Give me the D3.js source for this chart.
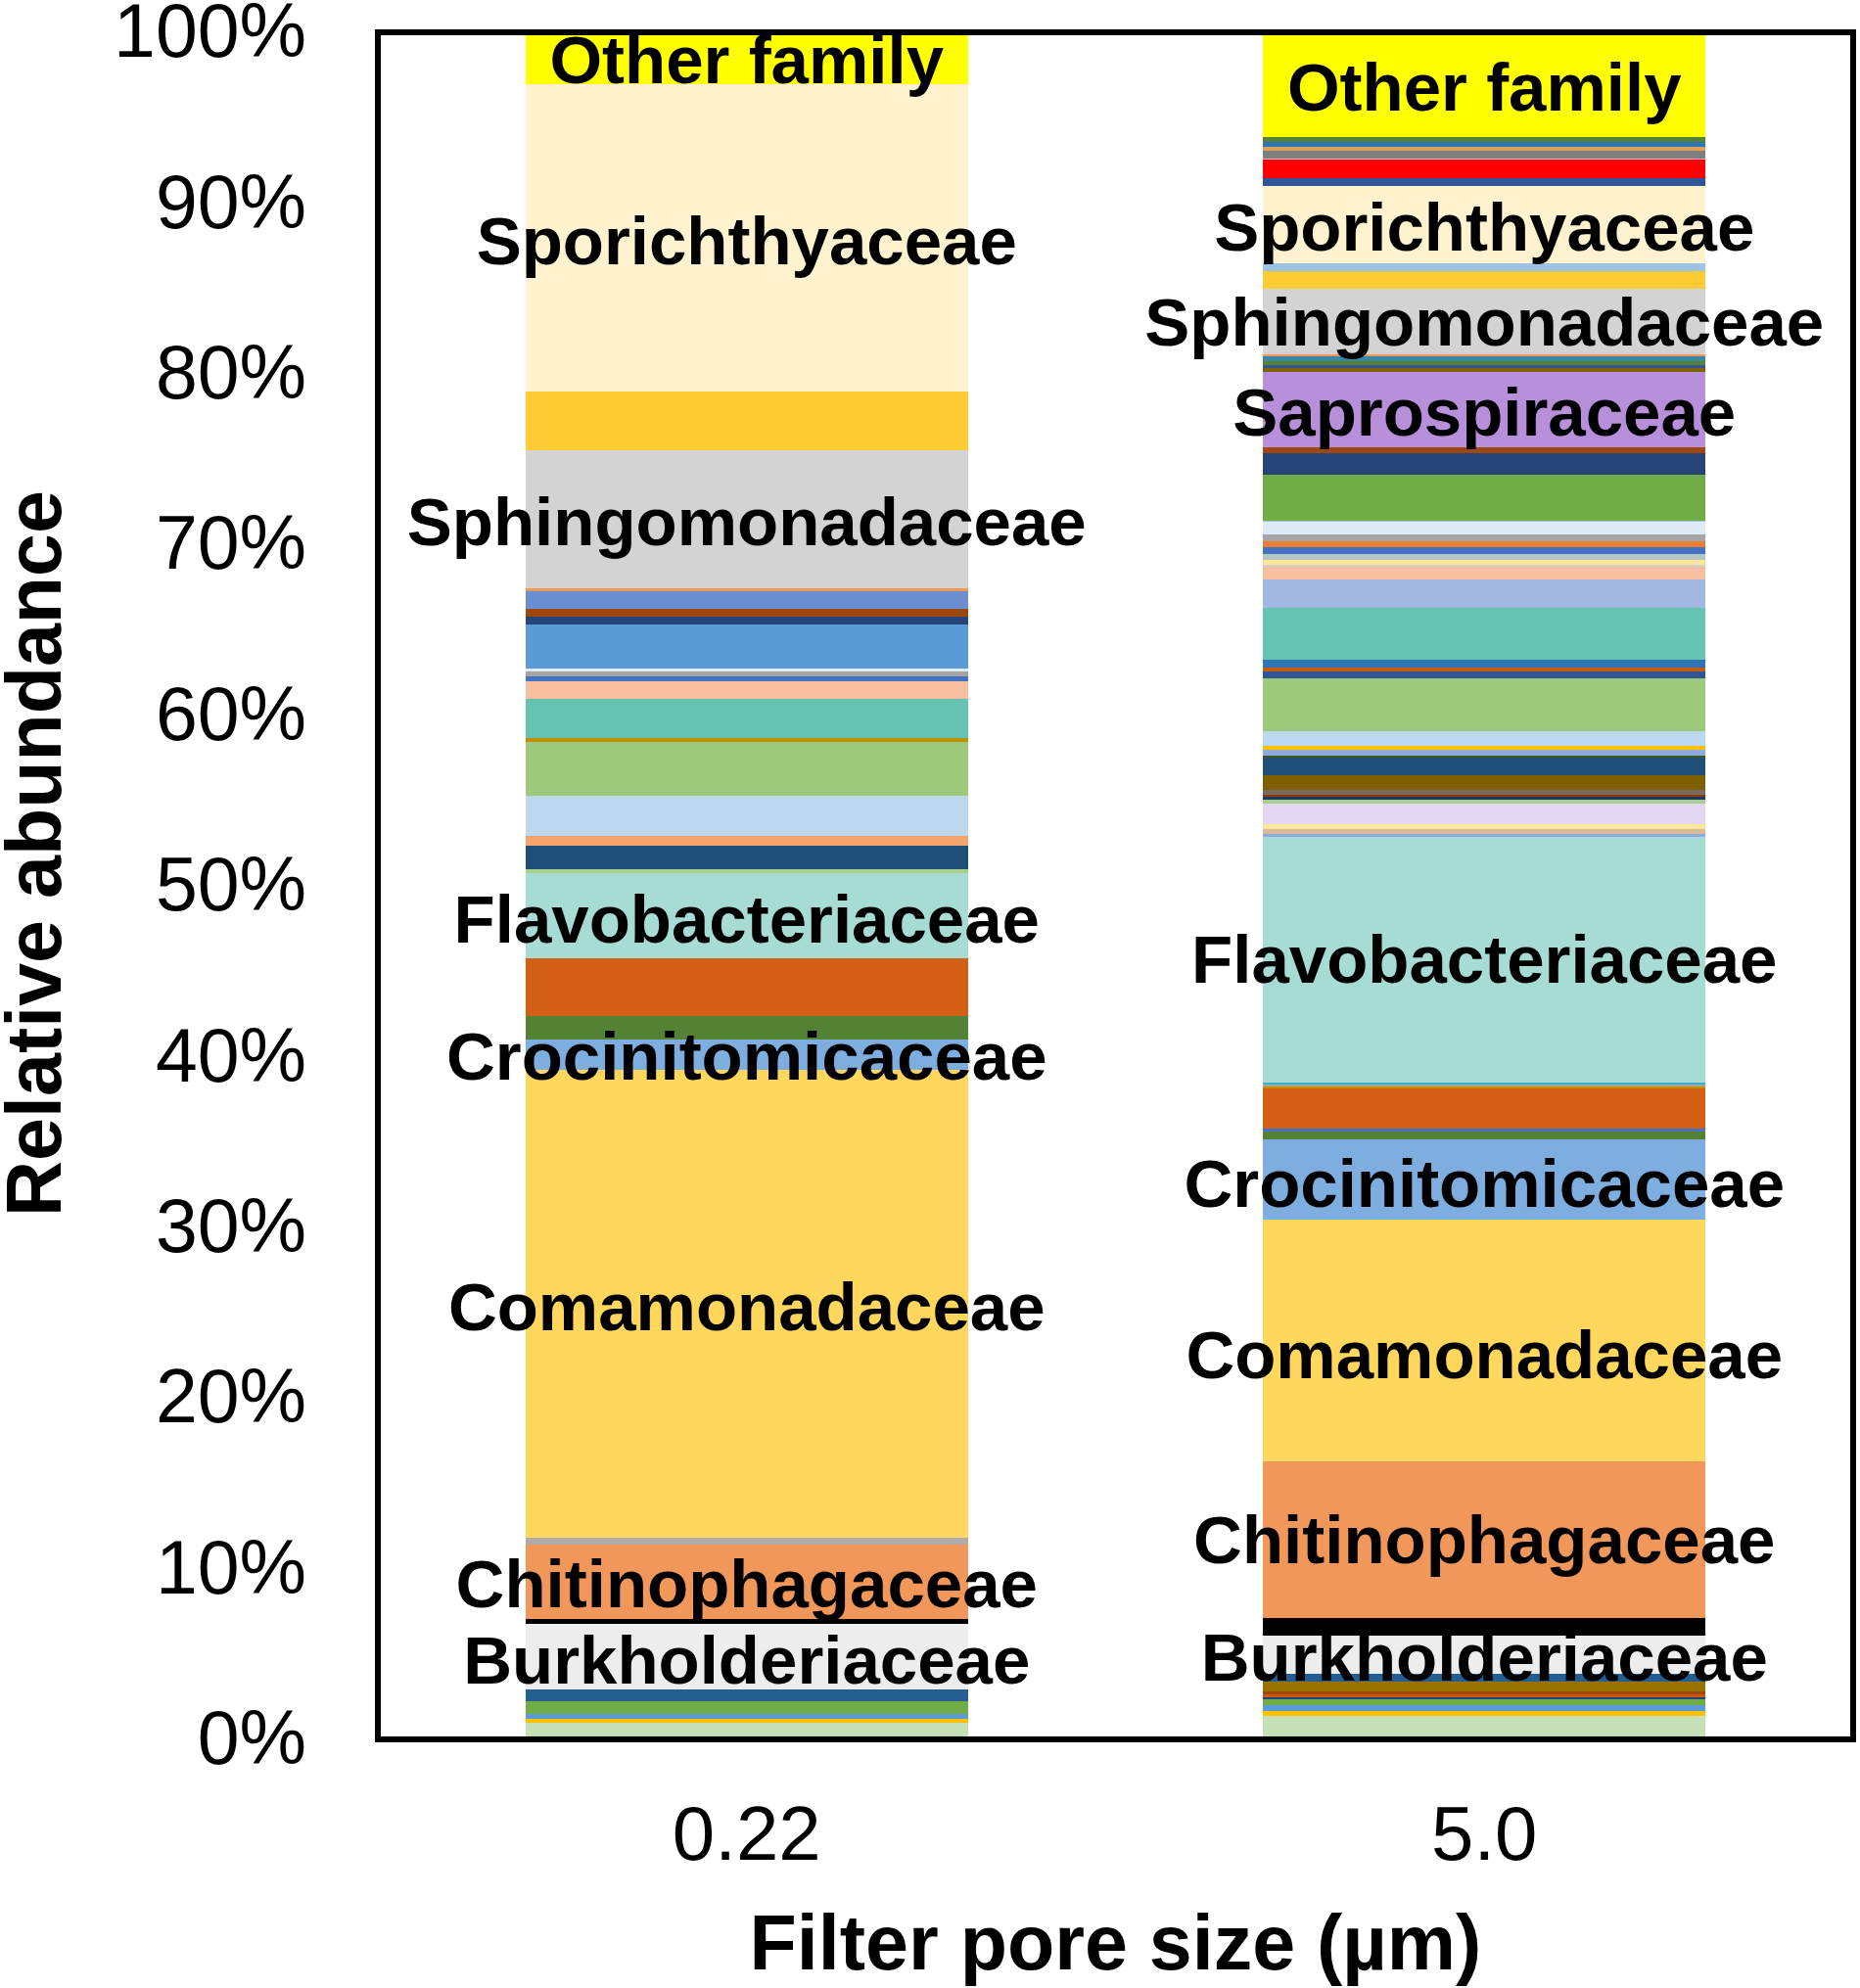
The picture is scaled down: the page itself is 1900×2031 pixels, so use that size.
<!DOCTYPE html>
<html lang="en">
<head>
<meta charset="UTF-8">
<title>Relative abundance by filter pore size</title>
<style>
  body { margin: 0; background: #ffffff; }
  #canvas { width: 1900px; height: 2031px; }
  text { font-family: "Liberation Sans", Arial, sans-serif; }
</style>
<script src="https://cdnjs.cloudflare.com/ajax/libs/d3/7.8.5/d3.min.js"></script>
</head>
<body>
<div id="canvas"></div>
<script>
// samples (x categories)
var samples = ["0.22", "5.0"];

// family abundances (%), stacked bottom -> top, same series order in both bars
var abund022 = [
  1.00, 0.19, 0.29, 0.73, 0, 0, 0, 0, 0.71, 3.82,
  0.33, 4.36, 0.38, 27.40, 1.80, 1.34, 0, 3.40, 0, 0,
  0, 5.00, 0, 0, 0, 0, 0.25, 0, 0, 0,
  0, 1.36, 0, 0, 0.57, 0, 2.33, 3.19, 0.19, 0,
  0, 0, 2.31, 0, 1.03, 0, 0, 0, 0.29, 0,
  0.29, 0.19, 0, 2.58, 0, 0.44, 0.44, 1.05, 0, 0,
  0, 0, 0, 0.19, 8.07, 3.44, 0, 18.00, 0, 0,
  0, 0, 0, 0, 0, 3.04
];
var abund50 = [
  1.36, 0.29, 0.38, 0.33, 0.12, 0.13, 0.19, 0.57, 0.48, 2.25,
  1.03, 9.14, 0, 14.18, 4.68, 0.50, 0.13, 2.39, 0.11, 0.11,
  0.11, 14.39, 0.19, 0.29, 0.25, 1.24, 0.19, 0.19, 0.13, 0.25,
  0.90, 1.01, 0.13, 0.33, 0, 0.23, 0.84, 3.10, 0, 0.42,
  0.25, 0.44, 3.06, 1.66, 0.71, 0.11, 0.33, 0.33, 0.38, 0.38,
  0.40, 0.73, 0.07, 0, 2.68, 1.24, 0.38, 0, 4.40, 0.20,
  0.20, 0.25, 0.25, 0.15, 3.82, 1.05, 0.42, 4.55, 0.48, 1.05,
  0.10, 0.44, 0.23, 0.29, 0.29, 6.12
];

// fill colour of each series
var segColors = [
  "#C5E0B4", "#FFC000", "#5B9BD5", "#70AD47", "#264478", "#C55A11", "#9E480E", "#997300", "#255E91", "#EDEDED",
  "#000000", "#F1975A", "#AFABAB", "#FFD75C", "#7EAEE0", "#548235", "#4472C4", "#D35F14", "#BF9000", "#A5A5A5",
  "#4BACC6", "#A7DCD4", "#8FAADC", "#D9B99B", "#FFE699", "#E3D7F1", "#A9D18E", "#203864", "#843C0C", "#7B6A58",
  "#7F6000", "#1F4E79", "#385723", "#8FAADC", "#F4A46C", "#FFC000", "#BDD7EE", "#9DC97B", "#BF9000", "#2F5597",
  "#C55A11", "#2E75B6", "#66C3B1", "#A2B8E1", "#F7BFA0", "#D0CECE", "#FFE699", "#B4C7C7", "#4472C4", "#ED7D31",
  "#A5A5A5", "#DEEBF7", "#9DC3E6", "#5B9BD5", "#70AD47", "#264478", "#9E480E", "#6A8ED0", "#B88FDB", "#806000",
  "#2F5597", "#548235", "#3A86A8", "#F0975A", "#D3D3D3", "#FFCC33", "#9DC3E6", "#FFF2CF", "#2F5597", "#FF0000",
  "#F4B6C2", "#7F7F7F", "#DDA15E", "#2E75B6", "#548235", "#FFFF00"
];

// family names written on the bars and where (in %) they sit
var labelText = ["Other family", "Sporichthyaceae", "Sphingomonadaceae", "Saprospiraceae", "Flavobacteriaceae",
                 "Crocinitomicaceae", "Comamonadaceae", "Chitinophagaceae", "Burkholderiaceae"];
var labelAt022 = [97.0, 86.4, 69.95, null, 46.7, 38.65, 23.95, 7.75, 3.25];
var labelAt50  = [95.4, 87.2, 81.65, 76.4, 44.3, 31.2, 21.15, 10.3, 3.45];

// y tick values
var yTicks = [0, 10, 20, 30, 40, 50, 60, 70, 80, 90, 100];

//initialize
var width = 1900, height = 2031;
var plot = {left: 386, right: 1893, top: 33, bottom: 1777};

var keys = d3.range(segColors.length);
var table = [abund022, abund50].map(function(vals, i) {
  var row = {sample: samples[i]};
  keys.forEach(function(k) { row[k] = vals[k]; });
  return row;
});
var series = d3.stack().keys(keys)(table);

//scale
var x = d3.scaleBand()
          .domain(samples)
          .range([plot.left, plot.right])
          .paddingInner(0.4)
          .paddingOuter(0.2);

var y = d3.scaleLinear()
          .domain([0, 100])
          .range([plot.bottom, plot.top]);

var svg = d3.select("#canvas")
            .append("svg")
            .attr("width", width)
            .attr("height", height);

//bars
svg.append("g")
    .selectAll("g")
    .data(series)
    .enter().append("g")
    .attr("fill", function(d) { return segColors[d.key]; })
    .selectAll("rect")
    .data(function(d) { return d; })
    .enter().append("rect")
    .attr("x", function(d) { return x(d.data.sample); })
    .attr("width", x.bandwidth())
    .attr("y", function(d) { return y(d[1]); })
    .attr("height", function(d) { return Math.max(0, y(d[0]) - y(d[1])); })
    .attr("shape-rendering", "crispEdges");

//labels on bars
[labelAt022, labelAt50].forEach(function(pos, i) {
  var cx = x(samples[i]) + x.bandwidth() / 2;
  labelText.forEach(function(t, j) {
    if (pos[j] == null) return;
    svg.append("text")
        .attr("x", cx)
        .attr("y", y(pos[j]))
        .attr("text-anchor", "middle")
        .attr("font-size", 69)
        .attr("font-weight", "bold")
        .attr("fill", "#000")
        .text(t);
  });
});

//frame
svg.append("rect")
    .attr("x", plot.left)
    .attr("y", plot.top)
    .attr("width", plot.right - plot.left)
    .attr("height", plot.bottom - plot.top)
    .attr("fill", "none")
    .attr("stroke", "#000")
    .attr("stroke-width", 6);

//axis
var yAxis = d3.axisLeft(y)
              .tickValues(yTicks)
              .tickFormat(function(d) { return d + "%"; })
              .tickSize(0)
              .tickPadding(73);

var gy = svg.append("g")
    .attr("transform", "translate(" + plot.left + ",0)")
    .call(yAxis);
gy.select(".domain").remove();
gy.selectAll("text")
    .attr("font-size", 77)
    .attr("font-family", "'Liberation Sans', Arial, sans-serif")
    .attr("fill", "#000");

var xAxis = d3.axisBottom(x).tickSize(0);
var gx = svg.append("g")
    .attr("transform", "translate(0," + plot.bottom + ")")
    .call(xAxis);
gx.select(".domain").remove();
gx.selectAll("text")
    .attr("font-size", 78)
    .attr("font-family", "'Liberation Sans', Arial, sans-serif")
    .attr("fill", "#000")
    .attr("dy", null)
    .attr("y", 123);

//axis titles
svg.append("text")
    .attr("x", (plot.left + plot.right) / 2)
    .attr("y", 2012)
    .attr("text-anchor", "middle")
    .attr("font-size", 79)
    .attr("font-weight", "bold")
    .text("Filter pore size (\u00b5m)");

svg.append("text")
    .attr("transform", "translate(62,872) rotate(-90)")
    .attr("text-anchor", "middle")
    .attr("font-size", 79)
    .attr("font-weight", "bold")
    .text("Relative abundance");
</script>
</body>
</html>
